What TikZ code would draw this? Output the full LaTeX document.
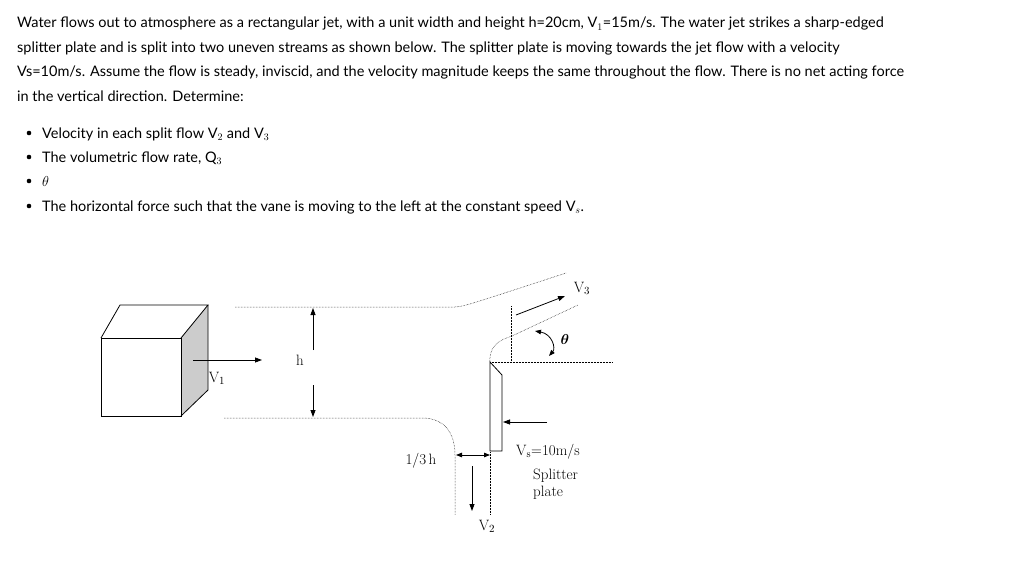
\documentclass[tikz,border=0pt]{standalone}
\usepackage{fontspec}
\newfontfamily\lato{Lato}
\usetikzlibrary{arrows.meta}
\begin{document}
\begin{tikzpicture}[x=1pt,y=-1pt,
  txt/.style={anchor=base west,inner sep=0,font=\lato\fontsize{14.5}{17}\selectfont},
  lab/.style={inner sep=0,font=\fontsize{15}{17}\selectfont},
  dot/.style={densely dotted,line width=0.5pt},
  arr/.style={-{Triangle[length=7pt,width=5pt]},line width=0.8pt},
  darr/.style={{Triangle[length=6pt,width=4.5pt]}-{Triangle[length=6pt,width=4.5pt]},line width=0.8pt}]
\useasboundingbox (0,0) rectangle (1024,567);
\node[txt] (l1) at (17,28) {Water flows out to atmosphere as a rectangular jet, with a unit width and height h=20cm, V$_1$=15m/s. The water jet strikes a sharp-edged};
\node[txt] (l2) at (17,53) {splitter plate and is split into two uneven streams as shown below. The splitter plate is moving towards the jet flow with a velocity};
\node[txt] (l3) at (17,77) {Vs=10m/s. Assume the flow is steady, inviscid, and the velocity magnitude keeps the same throughout the flow. There is no net acting force};
\node[txt] (l4) at (17,102) {in the vertical direction. Determine:};
\foreach \y/\t/\n in {138/{Velocity in each split flow V$_2$ and V$_3$}/b1,162/{The volumetric flow rate, Q$_3$}/b2,186/{$\theta$}/b3,211/{The horizontal force such that the vane is moving to the left at the constant speed V$_s$.}/b4}{
  \fill (29,\y-5) circle (2.3pt);
  \node[txt] (\n) at (42,\y) {\t};
}
% box
\fill[gray!40] (181,338) -- (208,305) -- (208,390) -- (181,416) -- cycle;
\draw[line width=0.8pt] (101,338) rectangle (181,416);
\draw[line width=0.8pt] (101,338) -- (120,305) -- (208,305) -- (181,338);
\draw[line width=0.8pt] (208,305) -- (208,390) -- (181,416);
\coordinate (v1s) at (193,360); \coordinate (v1e) at (262,360);
\draw[arr] (v1s) -- (v1e);
\node[lab] (V1) at (217,378) {V$_1$};
% jet boundaries
\draw[dot] (235,307) -- (455,307) .. controls (465,306) .. (566,273);
\draw[dot] (224,418) -- (425,418) .. controls (450,420) and (455,440) .. (455,455) -- (455,515);
% h
\node[lab] (h) at (300,360) {h};
\coordinate (ht) at (313,308); \coordinate (hb) at (313,417);
\draw[arr] (313,350) -- (ht);
\draw[arr] (313,385) -- (hb);
% plate
\draw[line width=0.8pt] (490,362) -- (502,375) -- (502,451) -- (490,451) -- cycle;
\draw[dot] (490,452) -- (490,515);
\draw[dot] (490,362) .. controls (489,345) and (500,340) .. (512,336) -- (578,305);
\draw[dot] (511,306) -- (511,362);
\draw[dot] (490,362) -- (612,362);
% V3
\coordinate (v3s) at (516,315); \coordinate (v3e) at (565,296);
\draw[arr] (v3s) -- (v3e);
\node[lab] (V3) at (582,288) {V$_3$};
% theta
\coordinate (tha) at (535,331); \coordinate (thb) at (549,356);
\draw[darr] (tha) .. controls (552,334) and (556,348) .. (thb);
\node[inner sep=0,font=\boldmath\fontsize{15}{17}\selectfont] (thlab) at (565,339) {$\theta$};
% Vs
\coordinate (vss) at (547,422); \coordinate (vse) at (503,422);
\draw[arr] (vss) -- (vse);
\node[lab,anchor=west] (Vs) at (516,452) {V$_{\mathrm{s}}$=10m/s};
\node[lab,align=left,anchor=north west] (sp) at (533,469) {Splitter\\plate};
% 1/3 h
\node[lab] (third) at (421,461) {1/3\,h};
\coordinate (ta) at (456,455); \coordinate (tb) at (490,455);
\draw[darr] (ta) -- (tb);
% V2
\coordinate (v2s) at (472,466); \coordinate (v2e) at (472,511);
\draw[arr] (v2s) -- (v2e);
\node[lab] (V2) at (487,526) {V$_2$};
\end{tikzpicture}
\end{document}
